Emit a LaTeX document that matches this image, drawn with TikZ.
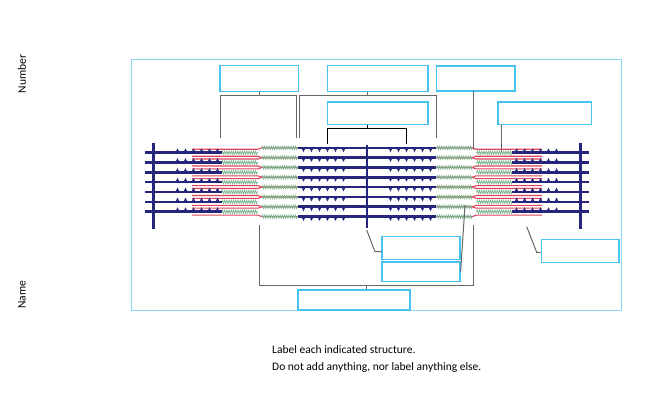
\documentclass[tikz,border=0pt]{standalone}
\usepackage{fontspec}
\setmainfont{Carlito}
\usetikzlibrary{decorations.pathmorphing}
\definecolor{navy}{RGB}{38,38,125}
\definecolor{myred}{RGB}{222,70,95}
\definecolor{mygreen}{RGB}{120,180,140}
\definecolor{boxblue}{RGB}{70,195,240}
\definecolor{frameblue}{RGB}{140,215,245}
\begin{document}
\begin{tikzpicture}[x=1pt,y=-1pt,
  lbl/.style={draw=boxblue,line width=1.2pt,inner sep=0pt},
  lead/.style={draw=gray!80!black,line width=1pt},
  thick/.style={draw=navy,line width=2.6pt},
  thin/.style={draw=myred,line width=1.1pt},
  spring/.style={draw=mygreen,line width=0.7pt,decorate,decoration={zigzag,segment length=2.2pt,amplitude=1.6pt}},
  head/.style={draw=navy,line width=1.2pt}]
\useasboundingbox (0,0) rectangle (647,416);
\fill[white] (0,0) rectangle (647,416);
\draw[frameblue,line width=1pt] (131.7,59.3) rectangle (621.7,310.7);
% sarcomere
\foreach \s in {1,-1}{
 \begin{scope}[xshift={(\s==1?0:734)},xscale=\s]
 \foreach \k in {0,...,6}{
  \pgfmathsetmacro{\y}{152.7+9.83*\k}
  \draw[thin] (192,\y-3.5) -- (258,\y-3.5) -- (262,\y-5) -- (325,\y-5);
  \draw[thin] (192,\y+3.5) -- (258,\y+3.5) -- (262,\y+5) -- (325,\y+5);
  \draw[spring] (222,\y) -- (258,\y);
  \draw[thick] (145,\y) -- (222,\y);
  \foreach \hx in {176,184,192,200,208,216}{\draw[head] (\hx,\y) -- (\hx+1.5,\y-3) -- (\hx+3,\y);}
 }
 \foreach \k in {0,...,7}{
  \pgfmathsetmacro{\y}{147.8+9.83*\k}
  \draw[spring] (262,\y) -- (298,\y);
  \draw[thick] (298,\y) -- (367,\y);
  \foreach \hx in {302,310,318,326,334,342}{\draw[head] (\hx,\y) -- (\hx+1.5,\y+3) -- (\hx+3,\y);}
 }
 \draw[navy,line width=2.6pt] (153.5,143) -- (153.5,229);
 \end{scope}}
\draw[navy,line width=2.6pt] (367,145) -- (367,228);
% top boxes
\node[lbl,minimum width=78.7pt,minimum height=26pt] (A) at (259.35,78.7) {};
\node[lbl,minimum width=100.7pt,minimum height=26pt] (B) at (377.65,78.7) {};
\node[lbl,minimum width=78.3pt,minimum height=25pt] (C) at (475.85,78.5) {};
\node[lbl,minimum width=100.7pt,minimum height=22.7pt] (D) at (377.65,113.35) {};
\node[lbl,minimum width=93.7pt,minimum height=22.7pt] (E) at (544.85,113.35) {};
\node[lbl,minimum width=78pt,minimum height=22.6pt] (F) at (421,248) {};
\node[lbl,minimum width=78pt,minimum height=19.7pt] (G) at (421,271.85) {};
\node[lbl,minimum width=77.7pt,minimum height=23pt] (H) at (580.15,250.8) {};
\node[lbl,minimum width=112pt,minimum height=20pt] (I) at (354,300) {};
% leaders
\coordinate (a1) at (220.7,138); \coordinate (a2) at (296.7,138);
\draw[lead] (A.south) -- (A.south|-0,95);
\draw[lead] (a1) -- (220.7,95) -- (296.7,95) -- (a2);
\draw[lead] (367,91.7) -- (367,95);
\coordinate (b1) at (299,138); \coordinate (b2) at (436,138);
\draw[lead] (b1) -- (299,95) -- (436,95) -- (b2);
\coordinate (d1) at (327.3,144); \coordinate (d2) at (406.7,144);
\draw[black,line width=1pt] (367,124.7) -- (367,128.3);
\draw[black,line width=1pt] (d1) -- (327.3,128.3) -- (406.7,128.3) -- (d2);
\coordinate (c1) at (473.7,150);
\draw[lead] (473.7,91) -- (c1);
\coordinate (e1) at (501.7,152);
\draw[lead] (501.7,124.7) -- (e1);
\coordinate (f1) at (366.7,230);
\draw[lead] (f1) -- (375,251.7) -- (F.west|-0,251.7);
\coordinate (g1) at (465,205);
\draw[lead] (G.east|-0,271.7) -- (g1);
\coordinate (h1) at (526.7,226.7);
\draw[lead] (h1) -- (536.7,252.3) -- (H.west|-0,252.3);
\coordinate (i1) at (259.7,225); \coordinate (i2) at (473.7,225);
\draw[lead] (i1) -- (259.7,285.3) -- (473.7,285.3) -- (i2);
\draw[lead] (366,285.3) -- (I.north-|366,0);
% texts
\node[rotate=90,font=\fontsize{11.5}{13}\selectfont] (num) at (22,74) {Number};
\node[rotate=90,font=\fontsize{11.5}{13}\selectfont] (nam) at (22,295) {Name};
\node[anchor=north west,align=left,font=\fontsize{11.5}{17}\selectfont,inner sep=0pt] (txt) at (272,345) {Label each indicated structure.\\Do not add anything, nor label anything else.};
\end{tikzpicture}
\end{document}
